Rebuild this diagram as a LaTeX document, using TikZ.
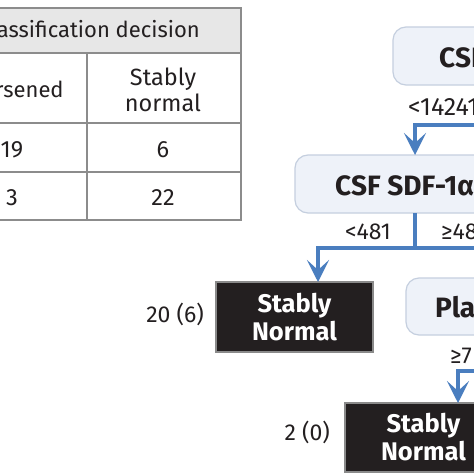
\documentclass[tikz,border=0pt]{standalone}
\usepackage{fontspec}
\setmainfont{Fira Sans}
\usetikzlibrary{arrows.meta}
\definecolor{conncol}{HTML}{4A7EBF}
\definecolor{boxfill}{HTML}{EEF2F9}
\definecolor{boxline}{HTML}{C5CFDF}
\definecolor{boxblack}{HTML}{231F20}
\definecolor{blackline}{HTML}{8A8A8A}
\definecolor{headgray}{HTML}{E7E7E7}
\definecolor{tabline}{HTML}{8C8C8C}
\definecolor{inktext}{HTML}{231F20}
\begin{document}
\begin{tikzpicture}[x=1pt,y=-1pt,
  conn/.style={draw=conncol,line width=4pt},
  arr/.style={conn,-{Stealth[length=22pt,width=22pt,inset=10pt]}},
  decbox/.style={draw=boxline,line width=1.2pt,fill=boxfill,rounded corners=13pt,inner sep=0pt,outer sep=0pt},
  leafbox/.style={draw=blackline,line width=1.5pt,fill=boxblack,inner sep=0pt,outer sep=0pt,
     minimum width=157pt,minimum height=70pt,text=white,align=center,
     font=\fontsize{25.5}{28}\selectfont\bfseries},
  dectext/.style={inner sep=0pt,text=inktext,font=\fontsize{28}{30}\selectfont\bfseries},
  lab/.style={inner sep=0pt,text=inktext,font=\fontsize{23}{26}\selectfont},
  tab/.style={inner sep=0pt,text=inktext,font=\fontsize{23.5}{26}\selectfont,align=center},
  tabnarrow/.style={tab,font=\fontsize{22}{26}\selectfont},
  tabrule/.style={draw=tabline,line width=1.5pt}]
\useasboundingbox (0,0) rectangle (474,474);
\clip (0,0) rectangle (474,474);
\fill[white] (0,0) rectangle (474,474);
% ---- table ----
\fill[headgray] (-120,8) rectangle (241,53);
\draw[tabrule] (-120,8) -- (241,8) -- (241,220) -- (-120,220);
\draw[tabrule] (-120,53) -- (241,53);
\draw[tabrule] (-120,123) -- (241,123);
\draw[tabrule] (-120,172) -- (241,172);
\draw[tabrule] (87,53) -- (87,220);
\node[tabnarrow,anchor=base east] (th) at (200,37) {Classification decision};
\node[tabnarrow,anchor=base] (tw) at (14,97) {Worsened};
\node[tab,anchor=base] (ts) at (163,85) {Stably};
\node[tab,anchor=base] (tn) at (163,111) {normal};
\node[tab,anchor=base] (t19) at (12,157) {19};
\node[tab,anchor=base] (t6) at (163,157) {6};
\node[tab,anchor=base] (t3) at (12,205) {3};
\node[tab,anchor=base] (t22) at (163,205) {22};
% ---- tree ----
\node[decbox,minimum width=274pt,minimum height=58pt] (A) at (530,56) {};
\node[dectext,anchor=base west] (At) at (439,67) {CSF};
\node[decbox,minimum width=240pt,minimum height=58pt] (B) at (415,184) {};
\node[dectext,anchor=base west] (Bt) at (335,195) {CSF SDF-1α};
\node[decbox,minimum width=248pt,minimum height=57pt] (D) at (530,306.5) {};
\node[dectext,anchor=base west] (Dt) at (435,317) {Plasma};
\node[leafbox] (C) at (294.5,317) {Stably\\Normal};
\node[leafbox,minimum height=69pt] (E) at (423.5,437.5) {Stably\\Normal};
\node[lab,anchor=base east] (Cn) at (204,322) {20 (6)};
\node[lab,anchor=base east] (En) at (330,440) {2 (0)};
\node[lab,anchor=base west,font=\fontsize{25}{26}\selectfont] (l1) at (408,115) {<14241};
\node[lab,anchor=base west] (l2) at (345,239) {<481};
\node[lab,anchor=base west] (l3) at (441,239) {≥481};
\node[lab,anchor=base west] (l4) at (450,363) {≥7};
\coordinate (Cin) at (318,282);
\coordinate (Ein) at (458,403);
\draw[arr] (A.south) -- (530,125) -- (415,125) -- (B.north);
\draw[arr] (B.south) -- (415,248) -- (318,248) -- (Cin);
\draw[arr] (415,248) -| (D.north);
\draw[arr] (D.south) -- (530,371) -- (458,371) -- (Ein);
\end{tikzpicture}
\end{document}
